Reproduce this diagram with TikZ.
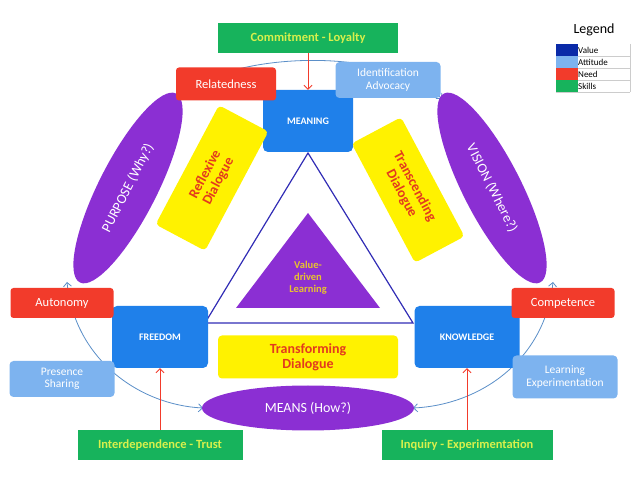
\documentclass[tikz,border=0pt]{standalone}
\usepackage{fontspec}
\setmainfont{Carlito}
\usetikzlibrary{shapes.geometric,arrows.meta}
\definecolor{valueblue}{HTML}{1F80EA}
\definecolor{legblue}{HTML}{0A2AA8}
\definecolor{attblue}{HTML}{7DB3EF}
\definecolor{needred}{HTML}{F23B2B}
\definecolor{skillgreen}{HTML}{17B35C}
\definecolor{viopurple}{HTML}{8B2FD3}
\definecolor{dlgyellow}{HTML}{FFF200}
\definecolor{lime}{HTML}{D8F04C}
\definecolor{dlgred}{HTML}{E33A1E}
\definecolor{arcblue}{HTML}{5B8FC8}
\tikzset{
  value/.style={draw=none,fill=valueblue,rounded corners=5pt,text=white,font=\bfseries\fontsize{10}{11}\selectfont,minimum width=90pt,minimum height=62pt},
  attitude/.style={fill=attblue,rounded corners=4pt,text=white,align=center,font=\fontsize{11.5}{12.5}\selectfont,minimum width=105pt,minimum height=36pt,inner sep=1pt},
  need/.style={fill=needred,rounded corners=3pt,text=white,font=\fontsize{12.5}{13}\selectfont,minimum width=103pt,minimum height=30pt},
  skill/.style={fill=skillgreen,text=lime,font=\bfseries\fontsize{12.5}{13}\selectfont,minimum height=30pt},
  purpose/.style={ellipse,fill=viopurple,text=white,font=\fontsize{14}{15}\selectfont,minimum width=212pt,minimum height=58pt,inner sep=0pt},
  dialogue/.style={fill=dlgyellow,rounded corners=4pt,text=dlgred,align=center,font=\bfseries\fontsize{14}{15}\selectfont,inner sep=1pt},
  skillarrow/.style={-{Straight Barb[length=4pt]},draw=needred,line width=0.9pt},
  arc/.style={{Straight Barb[length=4pt]}-{Straight Barb[length=4pt]},draw=arcblue,line width=0.8pt}
}
\begin{document}
\begin{tikzpicture}[x=1pt,y=-1pt]
\useasboundingbox (0,0) rectangle (638,478);
% blue arcs
\coordinate (tl) at (172,101);
\coordinate (tr) at (442,99);
\coordinate (bl) at (67,282);
\coordinate (br) at (553,282);
\draw[arc] (tl) .. controls (225,50) and (390,45) .. (tr);
\draw[arc] (bl) .. controls (75,360) and (140,405) .. (203,408);
\draw[arc] (br) .. controls (545,360) and (480,405) .. (413,408);
% triangle
\coordinate (t1) at (308,153);
\coordinate (t2) at (205,323);
\coordinate (t3) at (413,323);
\draw[draw=legblue!70!viopurple,line width=1.2pt] (t1) -- (t2) -- (t3) -- cycle;
\fill[viopurple] (308,213) -- (236,308) -- (380,308) -- cycle;
\node[text=lime!60!orange,align=center,font=\bfseries\fontsize{10.5}{12}\selectfont] (vdl) at (308,278) {Value-\\driven\\Learning};
% values
\node[value] (meaning) at (308,121) {MEANING};
\node[value,minimum width=96pt] (freedom) at (160,337) {FREEDOM};
\node[value,minimum width=105pt] (knowledge) at (467,337) {KNOWLEDGE};
% ellipses
\node[purpose,rotate=63] (purpose) at (128,188) {PURPOSE (Why?)};
\node[purpose,rotate=-63] (vision) at (492,188) {VISION (Where?)};
\node[purpose,minimum height=45pt] (means) at (308,408) {MEANS (How?)};
% dialogues
\node[dialogue,rotate=62,minimum width=135pt,minimum height=56pt] (reflexive) at (212,178) {Reflexive\\Dialogue};
\node[dialogue,rotate=-62,minimum width=135pt,minimum height=56pt] (transcending) at (408,190) {Transcending\\Dialogue};
\node[dialogue,minimum width=180pt,minimum height=43pt] (transforming) at (308,357) {Transforming\\Dialogue};
% needs and attitudes
\node[need,minimum width=100pt,minimum height=33pt] (relatedness) at (226,84) {Relatedness};
\node[attitude] (identification) at (388,80) {Identification\\Advocacy};
\node[need] (autonomy) at (62,303) {Autonomy};
\node[need] (competence) at (563,303) {Competence};
\node[attitude] (presence) at (62,379) {Presence\\Sharing};
\node[attitude,minimum height=43pt] (learning) at (565,377) {Learning\\Experimentation};
% skills
\node[skill,minimum width=180pt] (commitment) at (308,38) {Commitment - Loyalty};
\node[skill,minimum width=165pt] (interdependence) at (160,445) {Interdependence - Trust};
\node[skill,minimum width=171pt] (inquiry) at (467,445) {Inquiry - Experimentation};
\draw[skillarrow] (commitment) -- (meaning);
\draw[skillarrow] (interdependence) -- (freedom);
\draw[skillarrow] (inquiry) -- (knowledge);
% legend
\node[font=\fontsize{14}{15}\selectfont] (legend) at (594,30) {Legend};
\foreach \c/\t [count=\i] in {legblue/Value,attblue/Attitude,needred/Need,skillgreen/Skills}{
  \fill[\c] (556,32+12*\i) rectangle (578,44+12*\i);
  \draw[gray!40,line width=0.4pt] (556,44+12*\i) -- (630,44+12*\i) (630,32+12*\i) -- (630,44+12*\i);
  \node[anchor=west,inner sep=0pt,font=\fontsize{9}{10}\selectfont] (leg\i) at (578,38+12*\i) {\t};
}
\end{tikzpicture}
\end{document}
